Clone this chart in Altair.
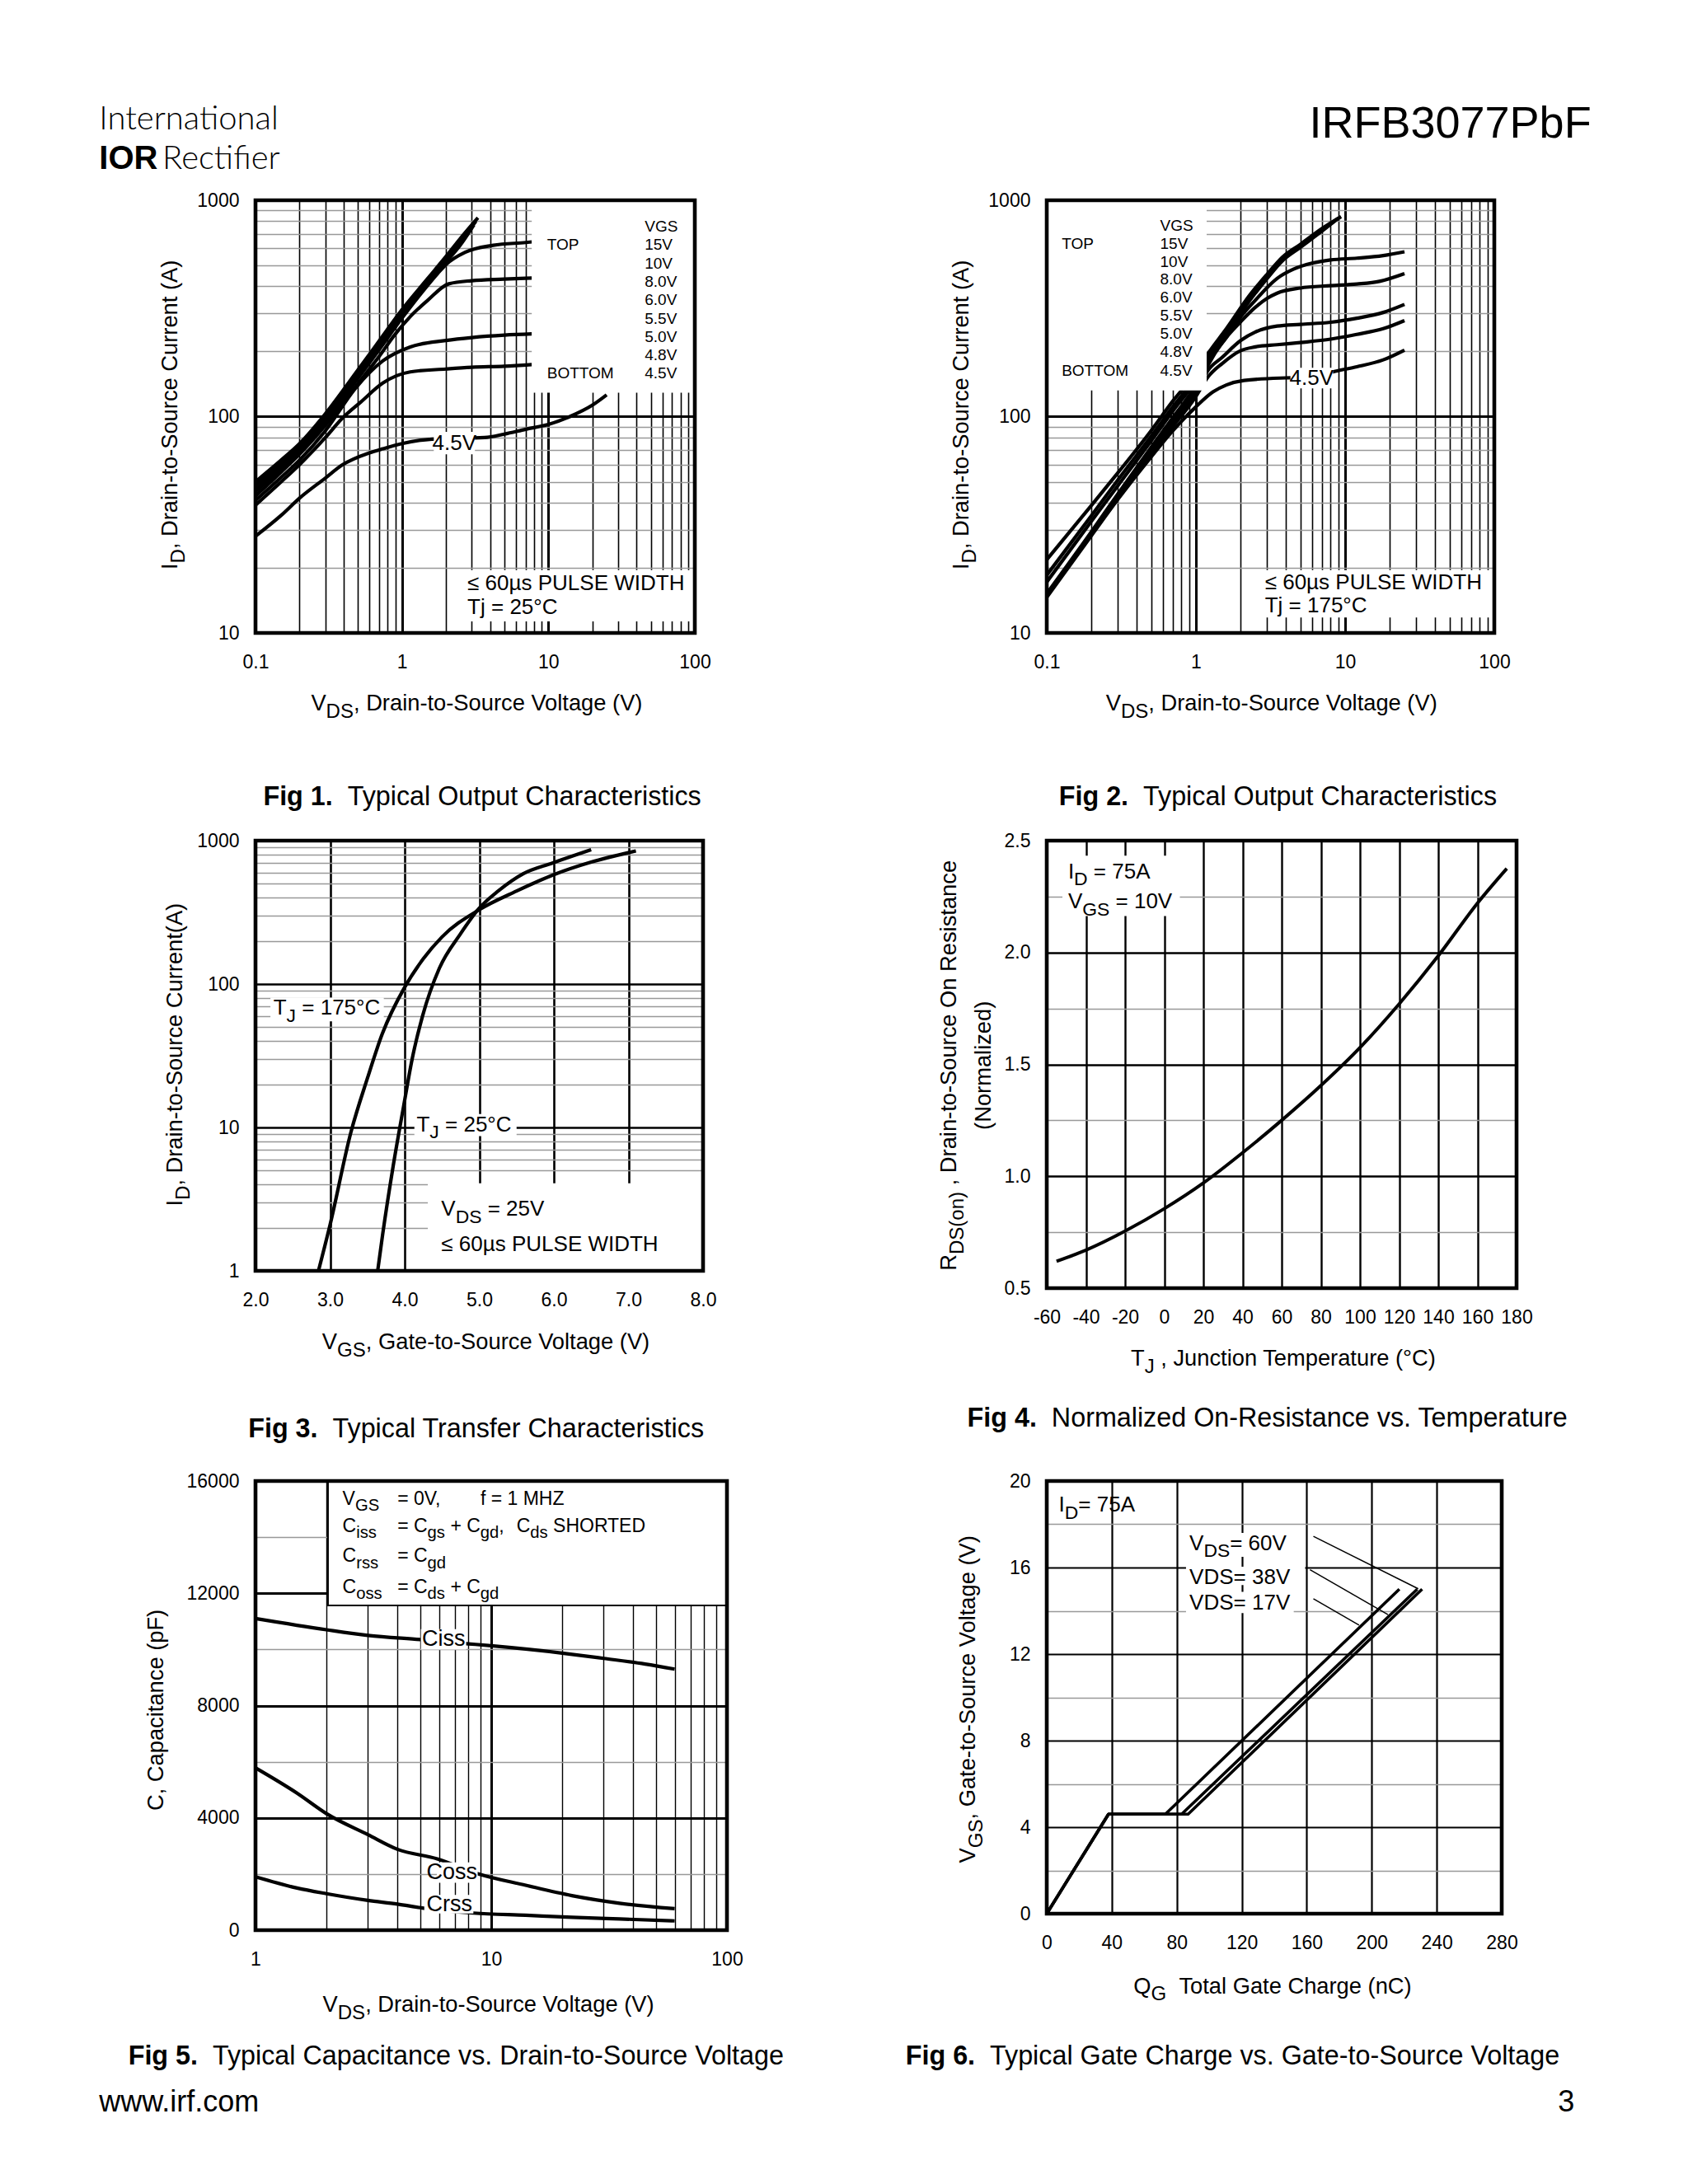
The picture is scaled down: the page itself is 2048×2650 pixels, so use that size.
import json
import altair as alt
import pandas as pd

FONT = "Liberation Sans"
LOGO_FONT = "Lato"
GRAY = "#999999"
LW = 4.2
ONE = pd.DataFrame({"k": [0]})

# ======================= DATA =======================
# Fig 1 : Typical output characteristics, Tj = 25 C  (VDS [V], ID [A])
F1_V_15 = [0.1, 0.15, 0.2, 0.3, 0.5, 0.7, 1.0, 1.5, 2.0, 2.5, 3.3]
F1_I_15 = [50, 63, 75, 103, 164, 224, 312, 435, 550, 665, 830]
F1_V_10 = [0.1, 0.15, 0.2, 0.3, 0.5, 0.7, 1.0, 1.5, 2.0, 2.5, 3.2]
F1_I_10 = [48, 61, 73, 100, 160, 219, 305, 425, 535, 645, 800]
F1_V_8 = [0.1, 0.15, 0.2, 0.3, 0.5, 0.7, 1.0, 1.5, 2.0, 2.5, 3.1]
F1_I_8 = [46, 59, 71, 97, 155, 212, 296, 412, 518, 620, 770]
F1_V_6 = [0.1, 0.15, 0.2, 0.3, 0.5, 0.7, 1.0, 1.5, 1.76, 2.0, 2.7, 4.2, 7.0, 7.7]
F1_I_6 = [45, 57.5, 69, 94, 150, 204, 285, 405, 460, 505, 575, 619, 638, 642]
F1_V_55 = [0.1, 0.15, 0.2, 0.3, 0.5, 0.7, 0.88, 1.14, 1.5, 2.09, 3.0, 5.0, 7.7]
F1_I_55 = [43, 55.5, 67, 91, 142, 190, 236, 290, 345, 411, 425, 432, 437]
F1_V_5 = [0.1, 0.15, 0.2, 0.3, 0.48, 0.74, 1.14, 2.0, 3.0, 5.0, 7.7]
F1_I_5 = [41, 52.5, 63, 86, 135, 181, 210, 225, 232, 238, 241]
F1_V_48 = [0.1, 0.15, 0.2, 0.3, 0.39, 0.525, 0.74, 1.14, 2.0, 3.0, 5.0, 7.7]
F1_I_48 = [39, 50, 60, 80, 98, 117, 143, 161, 166, 169, 171, 174]
F1_V_45 = [0.1, 0.15, 0.2, 0.3, 0.39, 0.6, 0.74, 1.0, 1.6, 3.67, 5.0, 7.0, 10, 14, 20, 25]
F1_I_45 = [28, 35, 42, 52, 59.7, 68, 71, 75, 78.7, 80, 83, 87.4, 92, 100, 113, 126]
F1_LEG_TXT = ["VGS", "15V", "10V", "8.0V", "6.0V", "5.5V", "5.0V", "4.8V", "4.5V"]
F1_LEG_I = [754, 624, 509, 420, 345, 284, 234, 193, 159]
F1_TAG_TXT = ["TOP", "BOTTOM"]
F1_TAG_I = [624, 159]
F1_NOTE_TXT = ["≤ 60µs PULSE WIDTH", "Tj = 25°C"]
F1_NOTE_I = [17.0, 13.1]

# Fig 2 : Typical output characteristics, Tj = 175 C
F2_V_15 = [0.1, 0.2, 0.3, 0.5, 0.7, 1.0, 1.2, 1.6, 2.3, 3.0, 3.8, 5.0, 7.0, 9.4]
F2_I_15 = [21.8, 39, 55, 86, 118, 160, 195, 255, 365, 455, 546, 625, 740, 840]
F2_V_10 = [0.1, 0.2, 0.3, 0.5, 0.7, 1.0, 1.2, 1.6, 2.3, 3.0, 3.8, 5.0, 7.0, 9.0]
F2_I_10 = [18.5, 35, 51, 81, 111, 153, 188, 248, 355, 445, 535, 615, 730, 825]
F2_V_8 = [0.1, 0.2, 0.3, 0.5, 0.7, 1.0, 1.2, 1.6, 2.3, 3.0, 3.8, 5.0, 7.0, 8.6]
F2_I_8 = [17.2, 33, 48, 77, 106, 147, 182, 240, 345, 435, 525, 605, 720, 805]
F2_V_6 = [0.1, 0.2, 0.3, 0.5, 0.7, 1.0, 1.2, 1.6, 2.0, 2.5, 3.0, 3.5, 4.5, 6.0, 8.0, 12, 18, 25]
F2_I_6 = [15.2, 29.5, 44, 72, 99, 140, 178, 232, 290, 345, 395, 435, 480, 512, 530, 540, 555, 578]
F2_V_55 = [0.1, 0.2, 0.3, 0.5, 0.7, 1.0, 1.2, 1.5, 2.0, 2.5, 3.0, 3.5, 5.0, 8.0, 12, 17, 25]
F2_I_55 = [15.0, 29, 43, 70, 96, 134, 172, 220, 275, 320, 352, 372, 393, 403, 410, 422, 458]
F2_V_5 = [0.1, 0.2, 0.3, 0.5, 0.7, 1.0, 1.2, 1.5, 2.0, 2.5, 3.5, 5.0, 8.0, 12, 18, 25]
F2_I_5 = [14.9, 28.8, 42.5, 69, 93, 128, 163, 188, 225, 246, 262, 267, 273, 285, 303, 330]
F2_V_48 = [0.1, 0.2, 0.3, 0.5, 0.7, 1.0, 1.2, 1.5, 2.0, 2.5, 3.5, 5.0, 8.0, 12, 18, 25]
F2_I_48 = [14.8, 28.6, 42, 67, 90, 124, 152, 176, 202, 210, 215, 220, 228, 240, 255, 278]
F2_V_45 = [0.1, 0.2, 0.3, 0.5, 0.7, 1.0, 1.3, 1.6, 2.1, 4.0, 6.0, 8.6, 12, 18, 25]
F2_I_45 = [14.6, 28.3, 41.5, 65, 86, 111, 130, 140, 147, 151, 152, 162, 170, 183, 203]
F2_LEG_TXT = ["VGS", "15V", "10V", "8.0V", "6.0V", "5.5V", "5.0V", "4.8V", "4.5V"]
F2_LEG_I = [764, 630, 520, 429, 354, 292, 241, 199, 163]
F2_TAG_TXT = ["TOP", "BOTTOM"]
F2_TAG_I = [630, 163]
F2_NOTE_TXT = ["≤ 60µs PULSE WIDTH", "Tj = 175°C"]
F2_NOTE_I = [17.1, 13.3]

# Fig 3 : Typical transfer characteristics (VGS [V], ID [A])
F3_V_175 = [2.844, 3.0, 3.28, 3.5, 3.7, 4.0, 4.25, 4.5, 5.0, 5.5, 6.0, 6.5, 7.1]
F3_I_175 = [1.0, 2.1, 9.3, 22, 45, 95, 150, 213, 330, 445, 579, 708, 847]
F3_V_25 = [3.638, 3.705, 3.846, 3.986, 4.1, 4.24, 4.465, 4.746, 5.0, 5.253, 5.59, 5.98, 6.5]
F3_I_25 = [1.0, 1.8, 5.4, 14.1, 30, 60, 129, 223, 338, 445, 588, 698, 865]

# Fig 4 : Normalized on-resistance vs temperature
F4_T = [-55, -40, -20, 0, 20, 40, 60, 80, 100, 120, 140, 160, 175]
F4_R = [0.62, 0.67, 0.755, 0.855, 0.97, 1.105, 1.25, 1.405, 1.575, 1.77, 1.985, 2.22, 2.375]

# Fig 5 : Capacitance vs VDS (VDS [V], C [pF])
F5_V_CISS = [1, 2, 3, 5, 8, 10, 20, 30, 45, 60]
F5_C_CISS = [11100, 10700, 10500, 10350, 10200, 10130, 9870, 9680, 9480, 9300]
F5_V_COSS = [1, 1.5, 2, 3, 4, 5.9, 8.7, 14, 22, 35, 60]
F5_C_COSS = [5780, 4880, 4150, 3400, 2880, 2540, 2020, 1600, 1230, 960, 765]
F5_V_CRSS = [1, 1.5, 2, 3, 4, 5.1, 8.4, 14, 22, 35, 60]
F5_C_CRSS = [1900, 1500, 1300, 1060, 930, 790, 610, 530, 460, 400, 330]
F5_LBL_TXT = ["Ciss", "Coss", "Crss"]
F5_LBL_V = [6.28, 6.81, 6.64]
F5_LBL_C = [10354, 2044, 923]

# Fig 6 : Gate charge (QG [nC], VGS [V])
F6_Q_17 = [0, 38, 73, 217]
F6_V_17 = [0, 4.6, 4.6, 15.0]
F6_Q_38 = [0, 38, 83, 228]
F6_V_38 = [0, 4.6, 4.6, 15.0]
F6_Q_60 = [0, 38, 87, 231]
F6_V_60 = [0, 4.6, 4.6, 15.0]
F6_LEAD_Q0 = [164.1, 162.0, 164.1]
F6_LEAD_V0 = [17.44, 15.9, 14.56]
F6_LEAD_Q1 = [228.6, 210.0, 192.2]
F6_LEAD_V1 = [15.02, 13.82, 13.34]

# tick label values
F1_XLAB = [0.1, 1, 10, 100]
F1_YLAB = [10, 100, 1000]
F3_XLAB = [2, 3, 4, 5, 6, 7, 8]
F3_YLAB = [1, 10, 100, 1000]
F4_XLAB = [-60, -40, -20, 0, 20, 40, 60, 80, 100, 120, 140, 160, 180]
F4_YLAB = [0.5, 1.0, 1.5, 2.0, 2.5]
F5_XLAB = [1, 10, 100]
F5_YLAB = [0, 4000, 8000, 12000, 16000]
F6_XLAB = [0, 40, 80, 120, 160, 200, 240, 280]
F6_YLAB = [0, 4, 8, 12, 16, 20]

# ======================= HELPERS =======================
AW = {" ": 278, "!": 278, "(": 333, ")": 333, "+": 584, ",": 278, "-": 333, ".": 278, "/": 278,
      ":": 278, "=": 584, "°": 400, "µ": 556, "≤": 549,
      "A": 667, "B": 667, "C": 722, "D": 722, "E": 667, "F": 611, "G": 778, "H": 722, "I": 278,
      "J": 500, "K": 667, "L": 556, "M": 833, "N": 722, "O": 778, "P": 667, "Q": 778, "R": 722,
      "S": 667, "T": 611, "U": 722, "V": 667, "W": 944, "X": 667, "Y": 667, "Z": 611,
      "a": 556, "b": 556, "c": 500, "d": 556, "e": 556, "f": 278, "g": 556, "h": 556, "i": 222,
      "j": 222, "k": 500, "l": 222, "m": 833, "n": 556, "o": 556, "p": 556, "q": 556, "r": 333,
      "s": 500, "t": 278, "u": 556, "v": 500, "w": 722, "x": 500, "y": 500, "z": 500}
for _d in "0123456789":
    AW[_d] = 556
AWB = dict(AW)
AWB.update({"F": 611, "i": 278, "g": 611})

SUB_R = 0.88
SUB_D = 0.32
K = 1.0108  # page scale correction


def tw(s, fs, bold=False):
    tbl = AWB if bold else AW
    return sum(tbl.get(c, 556) for c in s) * fs / 1000.0


def seg_layout(segs, fs):
    out, pos = [], 0.0
    for t, st in segs:
        sz = fs * SUB_R if st == "s" else fs
        bold = st == "b"
        lead = len(t) - len(t.lstrip(" "))
        core = t.strip(" ")
        out.append((core, sz, bold, pos + tw(" " * lead, sz, bold), SUB_D * fs if st == "s" else 0.0))
        pos += tw(t, sz, bold)
    return out, pos


def px_text(text, x, y, fs, align="left", angle=0, weight="normal", font=FONT):
    return alt.Chart(ONE).mark_text(text=text, font=font, fontSize=fs, fontWeight=weight, align=align,
                                    baseline="alphabetic", angle=angle, color="black").encode(
        x=alt.value(x), y=alt.value(y))


def rich_px(segs, x, yc, fs, align="center", angle=0):
    items, total = seg_layout(segs, fs)
    start = {"left": 0.0, "center": -total / 2, "right": -total}[align]
    base = 0.36 * fs
    layers = []
    for core, sz, bold, off, drop in items:
        if not core:
            continue
        if angle == 0:
            px, py = x + start + off, yc + base + drop
        else:
            px, py = x + base + drop, yc - (start + off)
        layers.append(px_text(core, px, py, sz, angle=angle, weight="bold" if bold else "normal"))
    return layers


def rich_page(segs, O, xp, yp, fs, align="center", angle=0):
    """rich text placed at page position (xp, yp) measured on the reference"""
    return rich_px(segs, xp * K - O[0], yp * K - O[1], fs, align=align, angle=angle)


def rich_data(P, segs, xv, yv, fs, align="left"):
    items, total = seg_layout(segs, fs)
    start = {"left": 0.0, "center": -total / 2, "right": -total}[align]
    df = pd.DataFrame({"x": [xv], "y": [yv]})
    layers = []
    for core, sz, bold, off, drop in items:
        if not core:
            continue
        layers.append(alt.Chart(df).mark_text(text=core, font=FONT, fontSize=sz,
                                              fontWeight="bold" if bold else "normal", align="left",
                                              baseline="alphabetic", dx=start + off, dy=0.36 * fs + drop,
                                              color="black").encode(x=P["X"], y=P["Y"]))
    return layers


def decades(lo, hi):
    vals = []
    for e in range(lo, hi):
        for m in range(1, 10):
            vals.append(round(m * 10 ** e, 6))
    vals.append(round(10 ** hi, 6))
    return vals


def steps(a, b, s):
    out, v = [], a
    while v <= b + 1e-9:
        out.append(round(v, 6))
        v += s
    return out


def make_axis(values, label_vals, fmt, major_vals, minor_color, major_w, minor_w, pad):
    lab = "'' + datum.value" if fmt == "raw" else "format(datum.value, '%s')" % fmt
    expr = "indexof(%s, datum.value) >= 0 ? %s : ''" % (json.dumps(label_vals), lab)
    test = "indexof(%s, datum.value) >= 0" % json.dumps(major_vals)
    return alt.Axis(values=values, labelExpr=expr, grid=True,
                    gridColor={"condition": {"test": test, "value": "black"}, "value": minor_color},
                    gridWidth={"condition": {"test": test, "value": major_w}, "value": minor_w},
                    gridOpacity=1, ticks=False, domain=False, labelFont=FONT, labelFontSize=23,
                    labelColor="black", labelPadding=pad, labelFlush=False, labelOverlap=False,
                    title=None)


def mk_panel(sx, sy, ax, ay):
    return {"SX": sx, "SY": sy, "AX": ax, "AY": ay,
            "X": alt.X("x:Q", scale=sx, axis=ax), "Y": alt.Y("y:Q", scale=sy, axis=ay)}


def curves(P, pairs, interp="monotone", lw=LW):
    rows = []
    for name, xs, ys in pairs:
        for k, (a, b) in enumerate(zip(xs, ys)):
            rows.append({"s": name, "o": k, "x": a, "y": b})
    return alt.Chart(pd.DataFrame(rows)).mark_line(color="black", strokeWidth=lw, interpolate=interp,
                                                   strokeJoin="round").encode(
        x=P["X"], y=P["Y"], detail="s:N", order="o:Q")


def boxes(P, rows, stroke=None, sw=0):
    df = pd.DataFrame(rows, columns=["x0", "x1", "y0", "y1"])
    kw = {"fill": "white"}
    if stroke:
        kw.update(stroke=stroke, strokeWidth=sw)
    return alt.Chart(df).mark_rect(**kw).encode(
        x=alt.X("x0:Q", scale=P["SX"], axis=P["AX"]), x2="x1:Q",
        y=alt.Y("y0:Q", scale=P["SY"], axis=P["AY"]), y2="y1:Q")


def texts(P, txt, xs, ys, fs, align="left"):
    df = pd.DataFrame({"t": txt, "x": xs, "y": ys})
    return alt.Chart(df).mark_text(font=FONT, fontSize=fs, align=align, baseline="middle",
                                   color="black").encode(x=P["X"], y=P["Y"], text="t:N")


def frame(W, H):
    return alt.Chart(ONE).mark_rect(fill="transparent", stroke="black", strokeWidth=4.6).encode(
        x=alt.value(0), x2=alt.value(W), y=alt.value(0), y2=alt.value(H))


def caption(O, num, text, x_left, yc):
    return rich_page([("Fig %d." % num, "b"), ("  " + text, "n")], O, x_left, yc, 32.3, align="left")


TFS = 27.3  # axis title size
MINW = 1.6  # minor grid width

# ======================= LAYOUT =======================
W1, H1 = 533, 525
W2, H2 = 543, 525
W3, H3 = 543, 522
W4, H4 = 570, 543
W5, H5 = 572, 545
W6, H6 = 552, 525
O1, O2, O3, O4, O5, O6 = (310, 242), (1270, 242), (310, 1019), (1270, 1019), (310, 1796), (1270, 1796)

# ======================= FIG 1 =======================
P1 = mk_panel(alt.Scale(type="log", domain=[0.1, 100], nice=False),
              alt.Scale(type="log", domain=[10, 1000], nice=False),
              make_axis(decades(-1, 2), F1_XLAB, "~g", [1, 10], "black", 3, MINW, 24),
              make_axis(decades(1, 3), F1_YLAB, "~g", [100], GRAY, 3, MINW, 20))
f1 = [
    curves(P1, [("15V", F1_V_15, F1_I_15), ("10V", F1_V_10, F1_I_10), ("8.0V", F1_V_8, F1_I_8),
                ("6.0V", F1_V_6, F1_I_6), ("5.5V", F1_V_55, F1_I_55), ("5.0V", F1_V_5, F1_I_5),
                ("4.8V", F1_V_48, F1_I_48), ("4.5V", F1_V_45, F1_I_45)]),
    boxes(P1, [(7.7, 100, 129, 1000), (2.6, 100, 11.3, 19.5), (1.65, 3.15, 67, 85)]),
    texts(P1, F1_LEG_TXT, [45.5] * len(F1_LEG_TXT), F1_LEG_I, 19),
    texts(P1, F1_TAG_TXT, [9.8, 9.8], F1_TAG_I, 19),
    texts(P1, F1_NOTE_TXT, [2.8, 2.8], F1_NOTE_I, 26),
    texts(P1, ["4.5V"], [2.28], [75.5], 26, align="center"),
    frame(W1, H1),
]
f1 += rich_page([("I", "n"), ("D", "s"), (", Drain-to-Source Current (A)", "n")], O1, 203, 497, TFS, angle=270)
f1 += rich_page([("V", "n"), ("DS", "s"), (", Drain-to-Source Voltage (V)", "n")], O1, 573, 842, TFS)
f1 += caption(O1, 1, "Typical Output Characteristics", 316, 954)
f1 += [px_text("International", 119 * K - O1[0], 140 * K + 14.4 - O1[1], 40, font=LOGO_FONT, weight=300),
       px_text("IOR", 119 * K - O1[0], 188 * K + 14.4 - O1[1], 40, weight="bold"),
       px_text("Rectifier", 195 * K - O1[0], 188 * K + 14.4 - O1[1], 40, font=LOGO_FONT, weight=300)]
panel1 = alt.layer(*f1).properties(width=W1, height=H1)

# ======================= FIG 2 =======================
P2 = mk_panel(alt.Scale(type="log", domain=[0.1, 100], nice=False),
              alt.Scale(type="log", domain=[10, 1000], nice=False),
              make_axis(decades(-1, 2), F1_XLAB, "~g", [1, 10], "black", 3, MINW, 24),
              make_axis(decades(1, 3), F1_YLAB, "~g", [100], GRAY, 3, MINW, 20))
f2 = [
    curves(P2, [("15V", F2_V_15, F2_I_15), ("10V", F2_V_10, F2_I_10), ("8.0V", F2_V_8, F2_I_8),
                ("6.0V", F2_V_6, F2_I_6), ("5.5V", F2_V_55, F2_I_55), ("5.0V", F2_V_5, F2_I_5),
                ("4.8V", F2_V_48, F2_I_48), ("4.5V", F2_V_45, F2_I_45)]),
    boxes(P2, [(0.1, 1.18, 132, 1000), (2.75, 100, 11.8, 19.5), (4.3, 8.3, 135, 168)]),
    texts(P2, F2_LEG_TXT, [0.575] * len(F2_LEG_TXT), F2_LEG_I, 19),
    texts(P2, F2_TAG_TXT, [0.126, 0.126], F2_TAG_I, 19),
    texts(P2, F2_NOTE_TXT, [2.9, 2.9], F2_NOTE_I, 26),
    texts(P2, ["4.5V"], [5.96], [150], 26, align="center"),
    frame(W2, H2),
]
f2 += rich_page([("I", "n"), ("D", "s"), (", Drain-to-Source Current (A)", "n")], O2, 1153, 497, TFS, angle=270)
f2 += rich_page([("V", "n"), ("DS", "s"), (", Drain-to-Source Voltage (V)", "n")], O2, 1527, 842, TFS)
f2 += caption(O2, 2, "Typical Output Characteristics", 1271, 954)
f2 += [px_text("IRFB3077PbF", 1910 * K - O2[0], 145 * K + 19.4 - O2[1], 54, align="right")]
panel2 = alt.layer(*f2).properties(width=W2, height=H2)

# ======================= FIG 3 =======================
P3 = mk_panel(alt.Scale(domain=[2, 8], nice=False, zero=False),
              alt.Scale(type="log", domain=[1, 1000], nice=False),
              make_axis(steps(2, 8, 1), F3_XLAB, ".1f", F3_XLAB, "black", 2.6, 2.6, 24),
              make_axis(decades(0, 3), F3_YLAB, "~g", [10, 100], GRAY, 2.6, 1.3, 20))
f3 = [
    curves(P3, [("175", F3_V_175, F3_I_175), ("25", F3_V_25, F3_I_25)]),
    boxes(P3, [(2.2, 3.72, 55, 80.5), (4.13, 5.5, 8.7, 12.4), (4.31, 8.0, 1, 4.08)]),
    frame(W3, H3),
]
f3 += rich_data(P3, [("T", "n"), ("J", "s"), (" = 175°C", "n")], 2.24, 69, 26)
f3 += rich_data(P3, [("T", "n"), ("J", "s"), (" = 25°C", "n")], 4.16, 10.6, 26)
f3 += rich_data(P3, [("V", "n"), ("DS", "s"), (" = 25V", "n")], 4.49, 2.73, 26)
f3 += rich_data(P3, [("≤ 60µs PULSE WIDTH", "n")], 4.49, 1.55, 26)
f3 += rich_page([("I", "n"), ("D", "s"), (", Drain-to-Source Current(A)", "n")], O3, 209, 1265, TFS, angle=270)
f3 += rich_page([("V", "n"), ("GS", "s"), (", Gate-to-Source Voltage (V)", "n")], O3, 584, 1609, TFS)
f3 += caption(O3, 3, "Typical Transfer Characteristics", 298, 1713)
panel3 = alt.layer(*f3).properties(width=W3, height=H3)

# ======================= FIG 4 =======================
P4 = mk_panel(alt.Scale(domain=[-60, 180], nice=False, zero=False),
              alt.Scale(domain=[0.5, 2.5], nice=False, zero=False),
              make_axis(steps(-60, 180, 20), F4_XLAB, "raw", F4_XLAB, "black", 2.4, 2.4, 24),
              make_axis(steps(0.5, 2.5, 0.25), F4_YLAB, ".1f", F4_YLAB, GRAY, 2.4, 1.3, 20))
f4 = [
    curves(P4, [("r", F4_T, F4_R)], lw=4.0),
    boxes(P4, [(-52, 8, 2.163, 2.433)]),
    frame(W4, H4),
]
f4 += rich_data(P4, [("I", "n"), ("D", "s"), (" = 75A", "n")], -49.1, 2.365, 26)
f4 += rich_data(P4, [("V", "n"), ("GS", "s"), (" = 10V", "n")], -49.1, 2.231, 26)
f4 += rich_page([("R", "n"), ("DS(on)", "s"), (" , Drain-to-Source On Resistance", "n")], O4, 1138, 1278, TFS, angle=270)
f4 += rich_page([("(Normalized)", "n")], O4, 1179, 1278, TFS, angle=270)
f4 += rich_page([("T", "n"), ("J", "s"), (" , Junction Temperature (°C)", "n")], O4, 1542, 1629, TFS)
f4 += caption(O4, 4, "Normalized On-Resistance vs. Temperature", 1161, 1700)
panel4 = alt.layer(*f4).properties(width=W4, height=H4)

# ======================= FIG 5 =======================
P5 = mk_panel(alt.Scale(type="log", domain=[1, 100], nice=False),
              alt.Scale(domain=[0, 16000], nice=False),
              make_axis(decades(0, 2), F5_XLAB, "~g", [10], "black", 3, 1.4, 24),
              make_axis(steps(0, 16000, 2000), F5_YLAB, "d", F5_YLAB, GRAY, 3, 1.3, 20))
f5 = [
    curves(P5, [("ciss", F5_V_CISS, F5_C_CISS), ("coss", F5_V_COSS, F5_C_COSS), ("crss", F5_V_CRSS, F5_C_CRSS)]),
    boxes(P5, [(5.03, 7.83, 9998, 10724), (5.88, 8.76, 1688, 2414), (5.2, 8.4, 594, 1253)]),
    boxes(P5, [(2.03, 100, 11567, 16000)], stroke="black", sw=2),
    texts(P5, F5_LBL_TXT, F5_LBL_V, F5_LBL_C, 27, align="center"),
    frame(W5, H5),
]
f5 += rich_data(P5, [("V", "n"), ("GS", "s")], 2.34, 15404, 23)
f5 += rich_data(P5, [("= 0V,", "n")], 4.0, 15404, 23)
f5 += rich_data(P5, [("f = 1 MHZ", "n")], 9.0, 15404, 23)
f5 += rich_data(P5, [("C", "n"), ("iss", "s")], 2.34, 14435, 23)
f5 += rich_data(P5, [("= C", "n"), ("gs", "s"), (" + C", "n"), ("gd", "s"), (",", "n")], 4.0, 14435, 23)
f5 += rich_data(P5, [("C", "n"), ("ds", "s"), (" SHORTED", "n")], 12.8, 14435, 23)
f5 += rich_data(P5, [("C", "n"), ("rss", "s")], 2.34, 13358, 23)
f5 += rich_data(P5, [("= C", "n"), ("gd", "s")], 4.0, 13358, 23)
f5 += rich_data(P5, [("C", "n"), ("oss", "s")], 2.34, 12251, 23)
f5 += rich_data(P5, [("= C", "n"), ("ds", "s"), (" + C", "n"), ("gd", "s")], 4.0, 12251, 23)
f5 += rich_page([("C,  Capacitance (pF)", "n")], O5, 186, 2048, TFS, angle=270)
f5 += rich_page([("V", "n"), ("DS", "s"), (", Drain-to-Source Voltage (V)", "n")], O5, 587, 2404, TFS)
f5 += caption(O5, 5, "Typical Capacitance vs. Drain-to-Source Voltage", 154, 2466)
f5 += [px_text("www.irf.com", 119 * K - O5[0], 2521 * K + 13 - O5[1], 36)]
panel5 = alt.layer(*f5).properties(width=W5, height=H5)

# ======================= FIG 6 =======================
P6 = mk_panel(alt.Scale(domain=[0, 280], nice=False, zero=False),
              alt.Scale(domain=[0, 20], nice=False, zero=False),
              make_axis(steps(0, 280, 40), F6_XLAB, "d", F6_XLAB, "black", 2.2, 2.2, 24),
              make_axis(steps(0, 20, 2), F6_YLAB, "d", F6_YLAB, GRAY, 2.2, 1.3, 20))
lead_df = pd.DataFrame({"x": F6_LEAD_Q0, "y": F6_LEAD_V0, "x1": F6_LEAD_Q1, "y1": F6_LEAD_V1})
f6 = [
    curves(P6, [("17V", F6_Q_17, F6_V_17), ("38V", F6_Q_38, F6_V_38), ("60V", F6_Q_60, F6_V_60)],
           interp="linear", lw=3.6),
    boxes(P6, [(85.7, 153.8, 16.5, 17.6), (85.7, 159, 15.19, 16.04), (85.7, 152, 13.9, 14.88)]),
    alt.Chart(lead_df).mark_rule(color="black", strokeWidth=1.5).encode(x=P6["X"], y=P6["Y"], x2="x1:Q", y2="y1:Q"),
    frame(W6, H6),
]
f6 += rich_data(P6, [("I", "n"), ("D", "s"), ("= 75A", "n")], 7.4, 18.94, 26)
f6 += rich_data(P6, [("V", "n"), ("DS", "s"), ("= 60V", "n")], 87.8, 17.15, 26)
f6 += rich_data(P6, [("VDS= 38V", "n")], 87.8, 15.6, 26)
f6 += rich_data(P6, [("VDS= 17V", "n")], 87.8, 14.4, 26)
f6 += rich_page([("V", "n"), ("GS", "s"), (", Gate-to-Source Voltage (V)", "n")], O6, 1161, 2038, TFS, angle=270)
f6 += rich_page([("Q", "n"), ("G", "s"), ("  Total Gate Charge (nC)", "n")], O6, 1529, 2382, TFS)
f6 += caption(O6, 6, "Typical Gate Charge vs. Gate-to-Source Voltage", 1087, 2466)
f6 += [px_text("3", 1880 * K - O6[0], 2521 * K + 13 - O6[1], 36, align="center")]
panel6 = alt.layer(*f6).properties(width=W6, height=H6)

# ======================= PAGE =======================
chart = alt.concat(panel1, panel2, panel3, panel4, panel5, panel6, columns=2,
                   spacing={"row": 232, "column": 388}, bounds="flush", align="all").properties(
    padding={"left": 112, "top": 115, "right": 10, "bottom": 10})
chart = chart.configure(font=FONT, background="white").configure_view(stroke=None)
chart.save("out.html", embed_options={"renderer": "svg", "actions": False})
